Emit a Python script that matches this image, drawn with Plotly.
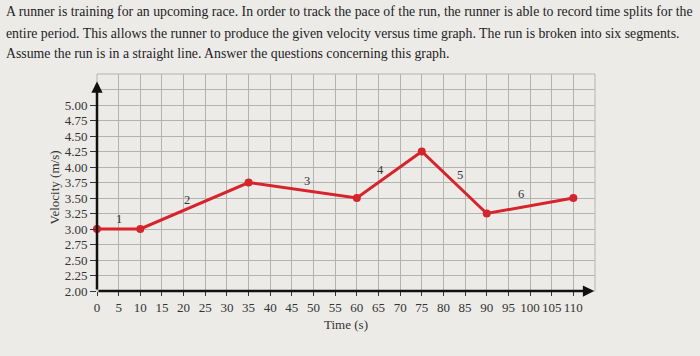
import plotly.graph_objects as go

# Data
time_s = [0, 10, 35, 60, 75, 90, 110]
velocity = [3.00, 3.00, 3.75, 3.50, 4.25, 3.25, 3.50]
seg_labels = ["1", "2", "3", "4", "5", "6"]
seg_label_x = [5, 20.8, 48.4, 65.5, 83.8, 97.9]
seg_label_y = [3.16, 3.47, 3.77, 3.95, 3.87, 3.56]
x_ticks = list(range(0, 111, 5))
y_ticks = [2.00, 2.25, 2.50, 2.75, 3.00, 3.25, 3.50, 3.75, 4.00, 4.25, 4.50, 4.75, 5.00]

title_lines = [
    "A runner is training for an upcoming race. In order to track the pace of the run, the runner is able to record time splits for the",
    "entire period. This allows the runner to produce the given velocity versus time graph. The run is broken into six segments.",
    "Assume the run is in a straight line. Answer the questions concerning this graph.",
]

BG = "#ecebe8"
GRID = "#b3b3b1"
RED = "#d8232a"
SERIF = "Liberation Serif, Times New Roman, serif"

W, H = 700, 356
ML, MR, MT, MB = 97, 105, 74, 65
PW, PH = W - ML - MR, H - MT - MB


def px_x(p):
    return (p - ML) / PW


def px_y(p):
    return (H - MB - p) / PH


fig = go.Figure()
fig.add_trace(go.Scatter(
    x=time_s, y=velocity, mode="lines+markers",
    line=dict(color=RED, width=3),
    marker=dict(color=RED, size=8),
    cliponaxis=False, hoverinfo="skip", showlegend=False,
))

annotations = []
for t, lx, ly in zip(seg_labels, seg_label_x, seg_label_y):
    annotations.append(dict(x=lx, y=ly, xref="x", yref="y", text=t, showarrow=False,
                            font=dict(family=SERIF, size=12.5, color="#333")))

for i, line in enumerate(title_lines):
    annotations.append(dict(x=px_x(4), y=px_y(12 + i * 21), xref="paper", yref="paper", text=line,
                            showarrow=False, xanchor="left", yanchor="middle",
                            font=dict(family=SERIF, size=13.8, color="#1e1e1e")))

# Axis arrows
annotations.append(dict(x=114.8, y=2.0, ax=0, ay=2.0, xref="x", yref="y", axref="x", ayref="y",
                        text="", showarrow=True, arrowhead=2, arrowsize=0.9, arrowwidth=2.5,
                        arrowcolor="#111"))
annotations.append(dict(x=0, y=5.38, ax=0, ay=2.0, xref="x", yref="y", axref="x", ayref="y",
                        text="", showarrow=True, arrowhead=2, arrowsize=0.9, arrowwidth=2.5,
                        arrowcolor="#111"))
# Y axis title
annotations.append(dict(x=px_x(44), y=px_y(188), xref="paper", yref="paper", text="Velocity (m/s)",
                        textangle=-90, showarrow=False,
                        font=dict(family=SERIF, size=13, color="#333")))

fig.update_layout(
    width=W, height=H,
    margin=dict(l=ML, r=MR, t=MT, b=MB),
    paper_bgcolor=BG, plot_bgcolor=BG,
    annotations=annotations,
    xaxis=dict(
        range=[0, 115], tickvals=x_ticks, ticktext=[str(v) for v in x_ticks],
        showgrid=True, gridcolor=GRID, gridwidth=1,
        minor=dict(dtick=5, tick0=0, showgrid=True, gridcolor=GRID, gridwidth=1),
        ticks="outside", ticklen=4, tickcolor="#333", zeroline=False, showline=False,
        tickfont=dict(family=SERIF, size=13, color="#333"),
        title=dict(text="Time (s)", font=dict(family=SERIF, size=13, color="#333"), standoff=6),
        automargin=False, fixedrange=True,
    ),
    yaxis=dict(
        range=[2, 5.5], tickvals=y_ticks, ticktext=[f"{v:.2f}" for v in y_ticks],
        showgrid=True, gridcolor=GRID, gridwidth=1,
        minor=dict(dtick=0.25, tick0=0, showgrid=True, gridcolor=GRID, gridwidth=1),
        ticks="outside", ticklen=6, tickcolor="#333", zeroline=False, showline=False,
        tickfont=dict(family=SERIF, size=13, color="#333"),
        automargin=False, fixedrange=True,
    ),
    shapes=[dict(type="rect", xref="paper", yref="paper", x0=0, x1=1, y0=0, y1=1,
                 line=dict(color=GRID, width=1), layer="below")],
)

fig.write_html(
    "out.html",
    config={"displayModeBar": False},
    post_script="document.body.style.margin='0';document.body.style.background='%s';"
                "document.body.style.overflow='hidden';" % BG,
)
